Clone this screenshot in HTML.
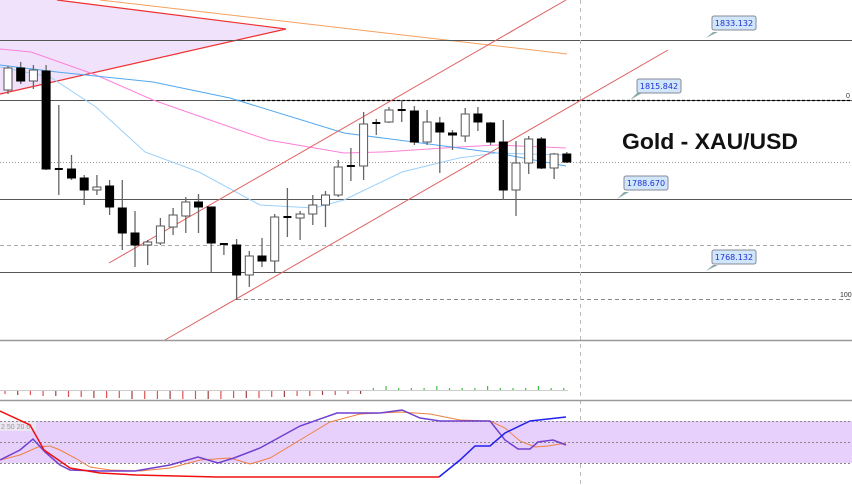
<!DOCTYPE html>
<html><head><meta charset="utf-8"><style>
html,body{margin:0;padding:0;background:#fff;width:852px;height:485px;overflow:hidden}
svg{display:block}
</style></head><body>
<svg id="s" width="852" height="485" xmlns="http://www.w3.org/2000/svg" font-family="Liberation Sans, sans-serif">
<polygon points="0,0 57,0 286,29 0,94" fill="#f1e2fb"/>
<line x1="57" y1="0" x2="286" y2="29" stroke="#f03030" stroke-width="1.2"/>
<line x1="0" y1="94" x2="286" y2="29" stroke="#f03030" stroke-width="1.2"/>
<line x1="100" y1="0" x2="567" y2="54" stroke="#f7a060" stroke-width="1"/>
<line x1="0" y1="40.5" x2="852" y2="40.5" stroke="#555" stroke-width="1"/>
<line x1="0" y1="100.5" x2="852" y2="100.5" stroke="#555" stroke-width="1"/>
<line x1="237" y1="100.5" x2="852" y2="100.5" stroke="#000" stroke-width="1.2" stroke-dasharray="3,2"/>
<line x1="0" y1="162.5" x2="852" y2="162.5" stroke="#999" stroke-width="1" stroke-dasharray="1,2"/>
<line x1="0" y1="199.5" x2="852" y2="199.5" stroke="#555" stroke-width="1"/>
<line x1="0" y1="245.5" x2="852" y2="245.5" stroke="#aaa" stroke-width="1" stroke-dasharray="4,3"/>
<line x1="0" y1="272.5" x2="852" y2="272.5" stroke="#555" stroke-width="1"/>
<line x1="237" y1="299.5" x2="852" y2="299.5" stroke="#888" stroke-width="1" stroke-dasharray="4,3"/>
<line x1="580.5" y1="0" x2="580.5" y2="485" stroke="#bbb" stroke-width="1" stroke-dasharray="4,4"/>
<line x1="0" y1="340.5" x2="852" y2="340.5" stroke="#999" stroke-width="1.5"/>
<line x1="0" y1="400.5" x2="852" y2="400.5" stroke="#999" stroke-width="1.5"/>
<polyline fill="none" stroke="#ff80d8" stroke-width="1" points="0,49 31,52 96,75 153,100 230,127 268,140 344,153 383,152 459,147 497,145 566,148"/>
<polyline fill="none" stroke="#50a8f0" stroke-width="1" points="0,65 57,72 153,82 230,98 344,133 421,143 497,153 566,166"/>
<polyline fill="none" stroke="#9cd0fa" stroke-width="1" points="0,67 50,77 96,107 145,152 199,172 260,205 314,208 344,200 402,172 459,158 497,153 566,155"/>
<line x1="109" y1="263" x2="566" y2="0" stroke="#e06060" stroke-width="1"/>
<line x1="165" y1="340" x2="668" y2="50" stroke="#e06060" stroke-width="1"/>
<g id="c"></g>
<text x="622" y="149" font-size="22" font-weight="bold" fill="#111" textLength="176" lengthAdjust="spacingAndGlyphs">Gold - XAU/USD</text>
<g font-size="8" fill="#2030d0" font-family="DejaVu Sans, sans-serif">
<polygon points="706,38 713,32 718,32" fill="#8aa" /><rect x="712" y="16" width="44" height="14" rx="2" fill="#cfe6fb" stroke="#889" /><text x="734" y="26" text-anchor="middle">1833.132</text>
<polygon points="630,100 637,93 642,93" fill="#8aa"/><rect x="637" y="79" width="44" height="14" rx="2" fill="#cfe6fb" stroke="#889"/><text x="659" y="89" text-anchor="middle">1815.842</text>
<polygon points="617,199 624,192 629,192" fill="#8aa"/><rect x="624" y="176" width="44" height="14" rx="2" fill="#cfe6fb" stroke="#889"/><text x="646" y="186" text-anchor="middle">1788.670</text>
<polygon points="706,271 713,265 718,265" fill="#8aa"/><rect x="712" y="250" width="44" height="14" rx="2" fill="#cfe6fb" stroke="#889"/><text x="734" y="260" text-anchor="middle">1768.132</text>
</g>
<text x="846" y="98" font-size="7" fill="#333">0</text>
<text x="840" y="297" font-size="7" fill="#333">100</text>
<g id="h"></g>
<rect x="0" y="421" width="852" height="42" fill="#e8d0fc"/>
<rect x="0" y="421" width="36" height="10" fill="#eee" opacity="0.7"/>
<text x="1" y="429" font-size="7" fill="#999">2 50 20 6</text>
<line x1="0" y1="421.5" x2="852" y2="421.5" stroke="#888" stroke-dasharray="2,2"/>
<line x1="0" y1="442.5" x2="852" y2="442.5" stroke="#888" stroke-dasharray="2,2"/>
<line x1="0" y1="463.5" x2="852" y2="463.5" stroke="#888" stroke-dasharray="2,2"/>
<polyline fill="none" stroke="#f08040" stroke-width="1" points="0,460 20,455 38,447 50,446 60,450 75,458 90,467 110,470 140,471 170,468 200,460 230,458 250,464 270,458 300,440 330,422 360,414 400,412 430,414 460,420 490,421 505,428 520,441 535,447 548,446 566,443"/>
<polyline fill="none" stroke="#7040d0" stroke-width="1.5" points="0,460 20,450 33,439 45,452 60,465 70,470 100,471 135,471 170,465 198,457 218,463 234,458 260,448 280,437 300,426 337,413 380,413 402,410 420,418 440,421 490,421 505,440 518,449 530,449 538,442 553,440 566,445"/>
<polyline fill="none" stroke="#f01010" stroke-width="1.5" points="0,411 30,425 44,450 70,468 100,473 136,475 217,477 439,477"/>
<polyline fill="none" stroke="#2020f0" stroke-width="1.5" points="439,477 460,460 475,446 490,446 505,433 530,421 566,417"/>
</svg>
<script>
var C=[[68,90,66,94,0],[68,81,62,84,1],[70,81,65,89,0],[71,169,65,170,1],[169,169,105,195,2],[169,178,155,180,1],[178,190,175,205,1],[187,190,175,195,0],[186,207,180,215,1],[208,233,180,250,1],[233,245,211,267,1],[242,245,240,265,0],[226,243,218,245,0],[215,227,208,235,0],[202,216,197,233,0],[202,207,194,233,1],[207,243,207,272,1],[244,244,243,255,2],[245,275,239,300,1],[256,275,251,287,0],[256,261,238,267,1],[217,261,214,272,0],[217,217,188,237,2],[214,218,211,240,0],[205,214,195,225,0],[195,205,191,227,0],[167,195,160,197,0],[166,166,148,181,2],[124,166,112,180,0],[123,123,119,135,2],[110,122,107,123,0],[110,110,100,122,2],[111,142,106,145,1],[122,142,110,145,0],[123,132,117,173,1],[133,135,130,150,1],[114,136,108,142,0],[114,122,107,131,1],[123,142,122,145,1],[142,190,120,200,1],[163,190,141,216,0],[139,163,136,174,0],[139,168,137,169,1],[154,168,153,179,0],[154,162,152,163,1]];
var s='';
C.forEach(function(c,i){var x=8+12.7*i;
s+='<line x1="'+x+'" y1="'+c[2]+'" x2="'+x+'" y2="'+c[3]+'" stroke="#666" stroke-width="1.3"/>';
if(c[4]==2)s+='<rect x="'+(x-4)+'" y="'+(c[0]-1)+'" width="8" height="2" fill="#000"/>';
else s+='<rect x="'+(x-4)+'" y="'+c[0]+'" width="8" height="'+Math.max(1,c[1]-c[0])+'" fill="'+(c[4]?'#000':'#fff')+'" stroke="'+(c[4]?'#000':'#555')+'" stroke-width="1"/>';});
document.getElementById('c').innerHTML=s;
var h='<line x1="0" y1="390.5" x2="568" y2="390.5" stroke="#ccc"/>';
for(var i=0;i<45;i++){var x=5+12.7*i;if(i<29){var l=2+Math.round(6*Math.sin(Math.PI*(i+2)/31));h+='<line x1="'+x+'" y1="391" x2="'+x+'" y2="'+(391+l)+'" stroke="'+(i%3==1?'#a04040':'#e05050')+'" stroke-width="1.2"/>';}else{h+='<line x1="'+x+'" y1="390" x2="'+x+'" y2="'+(388-(i%4==2?2:0))+'" stroke="#40c040" stroke-width="1.2"/>';}}
document.getElementById('h').innerHTML=h;
</script>
</body></html>
